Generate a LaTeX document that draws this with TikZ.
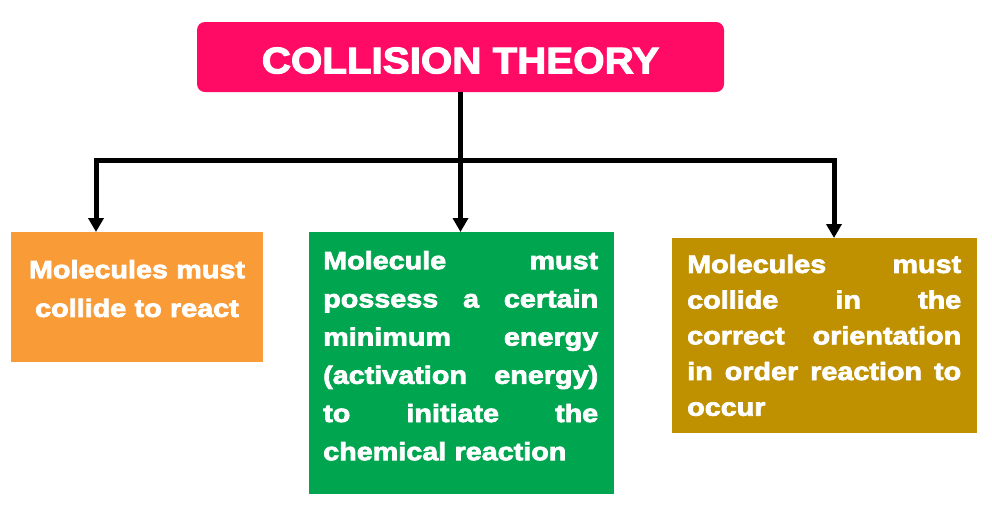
\documentclass[tikz,border=0pt]{standalone}
\usepackage{fontspec}
\setmainfont{Liberation Sans}
\newfontfamily\titlefont[FakeStretch=1.09,FakeBold=3]{Liberation Sans Bold}
\newfontfamily\boxfont[FakeStretch=1.15,FakeBold=3]{Liberation Sans Bold}
\usetikzlibrary{arrows.meta}
\definecolor{titlered}{HTML}{FF0A64}
\definecolor{boxorange}{HTML}{F99B37}
\definecolor{boxgreen}{HTML}{00A550}
\definecolor{boxgold}{HTML}{BF9000}
\newcommand\firstline{\rule{0pt}{25pt}}
\newcommand\jg[1]{\makebox[275pt][l]{#1}}
\newcommand\jy[1]{\makebox[274pt][l]{#1}}
\begin{document}
\begin{tikzpicture}[x=1pt,y=-1pt,
  boxshape/.style={rectangle,draw=none,inner sep=0pt,anchor=north west},
  boxtext/.style={text=white,inner sep=0pt,anchor=north west,align=left},
  conn/.style={line width=5pt,line join=miter,-{Triangle[length=14pt,width=15pt]}}]
\fill[white] (0,0) rectangle (992,507);
\useasboundingbox (0,0) rectangle (992,507);
% title
\node[rectangle,fill=titlered,rounded corners=8pt,minimum width=527pt,minimum height=70pt,
  inner sep=0pt,text=white,text height=32.6pt,text depth=0pt,
  font=\titlefont\fontsize{37}{40}\selectfont] (title) at (460.5,57) {COLLISION THEORY};
% boxes
\node[boxshape,fill=boxorange,minimum width=252pt,minimum height=130pt] (orange) at (11,232) {};
\node[boxshape,fill=boxgreen,minimum width=305pt,minimum height=262pt] (green) at (309,232) {};
\node[boxshape,fill=boxgold,minimum width=305pt,minimum height=195pt] (gold) at (672,238) {};
% texts
\node[boxtext,anchor=north,align=center,text width=252pt,
  font=\boxfont\fontsize{25}{38.7}\selectfont] (otext) at (137,253)
  {\firstline Molecules must\\collide to react};
\node[boxtext,text width=275pt,font=\boxfont\fontsize{25}{38.2}\selectfont] (gtext) at (323,244)
  {\firstline\jg{Molecule\hfill must}\\
   \jg{possess\hfill a\hfill certain}\\
   \jg{minimum\hfill energy}\\
   \jg{(activation\hfill energy)}\\
   \jg{to\hfill initiate\hfill the}\\
   chemical reaction};
\node[boxtext,text width=274pt,font=\boxfont\fontsize{25}{35.7}\selectfont] (ytext) at (687,247.7)
  {\firstline\jy{Molecules\hfill must}\\
   \jy{collide\hfill in\hfill the}\\
   \jy{correct\hfill orientation}\\
   \jy{in\hfill order\hfill reaction\hfill to}\\
   occur};
% connectors
\coordinate (jl) at (96,160);
\coordinate (jr) at (834,160);
\draw[conn] (jr) -- (jl) -- (jl |- orange.north);
\draw[conn] (jl) -- (jr) -- (jr |- gold.north);
\draw[conn] (title.south) -- (title.south |- green.north);
\end{tikzpicture}
\end{document}
